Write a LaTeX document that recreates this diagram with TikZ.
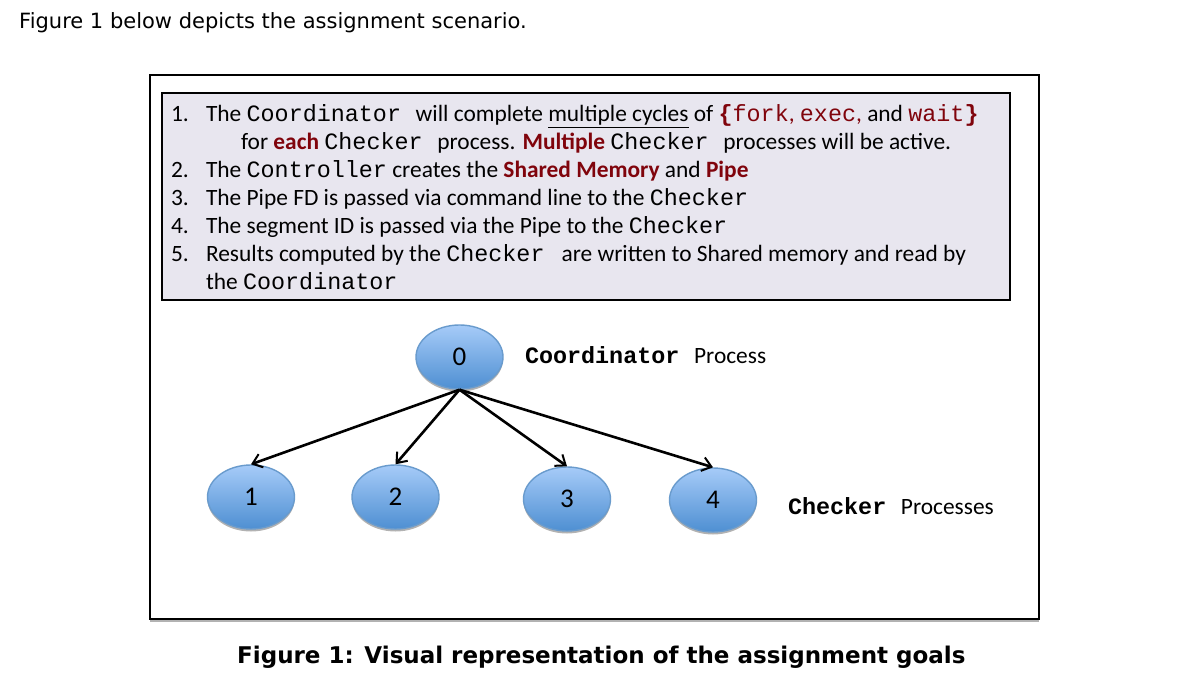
\documentclass[tikz,border=0pt]{standalone}
\usepackage{fontspec}
\setmainfont{Carlito}
\setmonofont{Liberation Mono}
\newfontfamily\headfont{DejaVu Sans}
\usetikzlibrary{arrows.meta,shadows,shapes.geometric}
\definecolor{boxfill}{RGB}{232,230,239}
\definecolor{redtxt}{RGB}{128,4,12}
\definecolor{elledge}{RGB}{105,155,205}
\definecolor{elltop}{RGB}{166,203,248}
\definecolor{ellbot}{RGB}{78,143,210}
\newcommand{\hl}[1]{\textcolor{redtxt}{\textbf{#1}}}
\newcommand{\hlm}[1]{\textcolor{redtxt}{#1}}
\tikzset{
  x=1pt,y=-1pt,
  txt/.style={anchor=base west,inner sep=0pt,outer sep=0pt,font=\fontsize{23.4}{28}\selectfont},
  numtxt/.style={font=\fontsize{27}{30}\selectfont},
  proc/.style={ellipse,minimum width=87pt,minimum height=64pt,inner sep=0pt,draw=elledge,line width=1.4pt,
    top color=elltop,bottom color=ellbot,drop shadow={shadow xshift=0pt,shadow yshift=-2.5pt,opacity=.3,fill=black},
    numtxt},
  link/.style={-{Straight Barb[length=9pt,width=14pt,line width=2pt]},line width=2.6pt,black},
  outer/.style={draw=black,fill=white,line width=1.8pt,drop shadow={shadow xshift=0pt,shadow yshift=-2.5pt,opacity=.3,fill=black}},
  inner/.style={draw=black,fill=boxfill,line width=1.8pt}
}
\begin{document}
\begin{tikzpicture}
\useasboundingbox (0,0) rectangle (1196,692);
\node[anchor=base west,inner sep=0pt,font=\headfont\fontsize{21}{24}\selectfont] (head) at (19,29) {Figure 1 below depicts the assignment scenario.};
\path[outer] (150,75) rectangle (1039,619);
\path[inner] (162,93) rectangle (1010,300);
\node[txt] (n1) at (171,122) {1.};
\node[txt] (l1) at (206,122) {The \texttt{Coordinator}\hspace{0.4em} will complete \underline{multiple cycles} of \hlm{\texttt{\textbf{\{}fork},} \hlm{\texttt{exec},} and \hlm{\texttt{wait\textbf{\}}}}};
\node[txt] (l1b) at (241,150) {for \hl{each} \texttt{Checker}\hspace{0.4em} process. \hl{Multiple} \texttt{Checker}\hspace{0.4em} processes will be active.};
\node[txt] (n2) at (171,178) {2.};
\node[txt] (l2) at (206,178) {The \texttt{Controller} creates the \hl{Shared Memory} and \hl{Pipe}};
\node[txt] (n3) at (171,206) {3.};
\node[txt] (l3) at (206,206) {The Pipe FD is passed via command line to the \texttt{Checker}};
\node[txt] (n4) at (171,234) {4.};
\node[txt] (l4) at (206,234) {The segment ID is passed via the Pipe to the \texttt{Checker}};
\node[txt] (n5) at (171,262) {5.};
\node[txt] (l5) at (206,262) {Results computed by the \texttt{Checker}\hspace{0.5em} are written to Shared memory and read by};
\node[txt] (l5b) at (206,290) {the \texttt{Coordinator}};
\node[proc] (p0) at (459.5,357) {0};
\node[proc] (p1) at (251,497) {1};
\node[proc] (p2) at (395.5,497) {2};
\node[proc] (p3) at (567,499) {3};
\node[proc] (p4) at (713,500) {4};
\draw[link] (p0.south) -- (p1.north);
\draw[link] (p0.south) -- (p2.north);
\draw[link] (p0.south) -- (p3.north);
\draw[link] (p0.south) -- (p4.north);
\node[txt] (lc) at (525,363) {\texttt{\textbf{Coordinator}}\hspace{0.4em} Process};
\node[txt] (lk) at (788,514) {\texttt{\textbf{Checker}}\hspace{0.4em} Processes};
\node[anchor=base west,inner sep=0pt,font=\headfont\bfseries\fontsize{23}{28}\selectfont] (cap) at (237,663) {Figure 1: Visual representation of the assignment goals};
\end{tikzpicture}
\end{document}
